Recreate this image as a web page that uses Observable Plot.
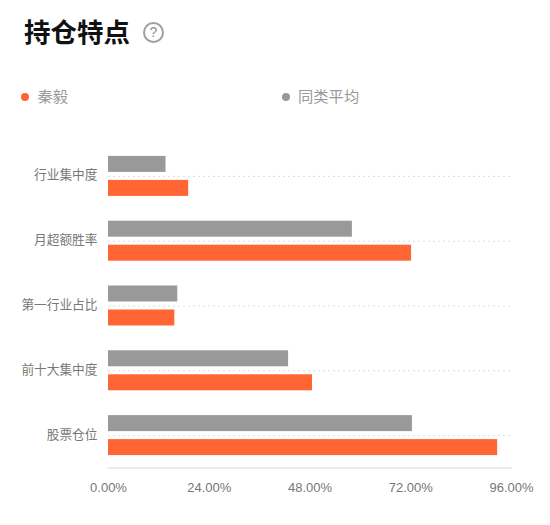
<!DOCTYPE html>
<html>
<head>
<meta charset="utf-8">
<script src="https://cdn.jsdelivr.net/npm/d3@7"></script>
<script src="https://cdn.jsdelivr.net/npm/@observablehq/plot@0.6"></script>
<style>
html,body{margin:0;padding:0;background:#fff;}
body{width:550px;height:525px;overflow:hidden;position:relative;font-family:"Noto Sans CJK SC","Noto Sans",sans-serif;}
#head{position:relative;height:130px;}
#title{position:absolute;left:24px;top:12px;font-size:26.5px;line-height:38px;font-weight:700;color:#111;}
#help{position:absolute;left:143px;top:22px;width:17px;height:17px;border:2px solid #a0a0a0;border-radius:50%;color:#909090;font-size:14px;line-height:17px;text-align:center;font-family:"Liberation Sans",sans-serif;}
.leg{position:absolute;top:83px;font-size:15.3px;line-height:24px;color:#999;}
.dot{position:absolute;top:93px;width:8px;height:8px;border-radius:50%;}
#chart svg{display:block;}
</style>
</head>
<body>
<div id="head">
  <div id="title">持仓特点</div>
  <div id="help">?</div>
  <span class="dot" style="left:21px;background:#ff6633"></span><span class="leg" style="left:37.5px">秦毅</span>
  <span class="dot" style="left:282px;background:#999"></span><span class="leg" style="left:298px">同类平均</span>
</div>
<div id="chart"></div>
<script>
const categories = ["行业集中度","月超额胜率","第一行业占比","前十大集中度","股票仓位"];
const seriesNames = ["同类平均","秦毅"];
const peerValues = [13.7,58.1,16.5,42.9,72.4];
const managerValues = [19.1,72.2,15.8,48.6,92.7];
const xTicks = [0,24,48,72,96];
const seriesColors = ["#999999","#ff6633"];

const rows = categories.flatMap((c,i)=>[
  {category:c, series:seriesNames[0], value:peerValues[i]},
  {category:c, series:seriesNames[1], value:managerValues[i]}
]);

const plot = Plot.plot({
  width:550, height:395,
  marginTop:13.5, marginBottom:57.5, marginLeft:108, marginRight:39,
  style:{background:"#fff", fontFamily:"'Liberation Sans',sans-serif", fontSize:"13px"},
  x:{domain:[0,96], axis:null},
  y:{domain:seriesNames, axis:null, paddingInner:1/3, paddingOuter:0.517, align:0.5, round:false},
  fy:{domain:categories, padding:0, axis:null, label:null, round:false},
  color:{domain:seriesNames, range:seriesColors},
  marks:[
    Plot.gridFy({stroke:"#dcdcdc", strokeOpacity:1, strokeDasharray:"2 3", strokeWidth:1}),
    Plot.barX(rows,{x:"value", y:"series", fy:"category", fill:"series"}),
    Plot.axisFy({anchor:"left", tickSize:0, tickPadding:11, label:null, fill:"#777", dy:-1,
      fontFamily:"'Noto Sans CJK SC',sans-serif", fontSize:12.7}),
    Plot.axisX({anchor:"bottom", ticks:xTicks, tickSize:0, tickPadding:15, label:null, fill:"#777",
      tickFormat:d=>d.toFixed(2)+"%", fontSize:13}),
    Plot.frame({anchor:"bottom", facet:"super", stroke:"#e6e6e6", strokeWidth:1.5})
  ]
});
document.getElementById("chart").appendChild(plot);
</script>
</body>
</html>
